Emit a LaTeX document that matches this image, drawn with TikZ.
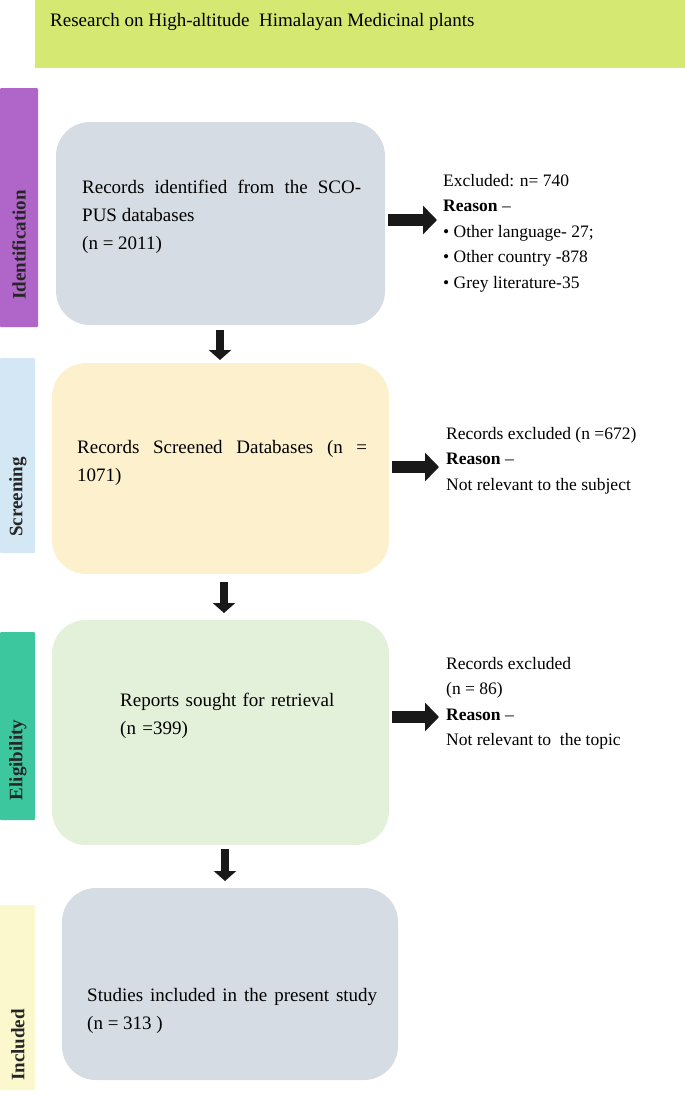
\documentclass[tikz,border=0pt]{standalone}
\usepackage{fontspec}
\setmainfont{Liberation Serif}
\usetikzlibrary{arrows.meta}
\definecolor{bannerg}{HTML}{D4E872}
\definecolor{purp}{HTML}{B066C8}
\definecolor{lblue}{HTML}{D3E7F4}
\definecolor{teal}{HTML}{3CC79F}
\definecolor{lyel}{HTML}{FAF8CC}
\definecolor{boxgray}{HTML}{D6DCE4}
\definecolor{boxyel}{HTML}{FDF1CD}
\definecolor{boxgrn}{HTML}{E3F1DB}
\begin{document}
\begin{tikzpicture}[x=1pt,y=-1pt,
  txt/.style={font=\fontsize{19}{28}\selectfont, inner sep=0pt},
  box/.style={rounded corners=34pt, draw=none},
  side/.style={rounded corners=1pt, draw=none},
  stage/.style={font=\fontsize{19}{22}\selectfont\bfseries, rotate=90, color=black!85, inner sep=0pt},
  rarr/.style={line width=12pt, -{Triangle[length=14pt,width=28pt]}, black!90},
  darr/.style={line width=8pt, -{Triangle[length=10pt,width=22pt]}, black!90}]
\useasboundingbox (0,0) rectangle (685,1096);
% banner
\fill[bannerg] (35,0) rectangle (685,68);
\node[txt, anchor=west] (title) at (50,22) {Research on High-altitude\ \ Himalayan Medicinal plants};
% side bars
\fill[side,purp] (0,88) rectangle (38,327);
\node[stage] (s1) at (19,245) {Identification};
\fill[side,lblue] (0,358) rectangle (35,553);
\node[stage] (s2) at (18,497) {Screening};
\fill[side,teal] (0,632) rectangle (35,820);
\node[stage] (s3) at (18,760) {Eligibility};
\fill[side,lyel] (0,905) rectangle (35,1090);
\node[stage] (s4) at (18,1045) {Included};
% boxes
\fill[box,boxgray] (56,122) rectangle (385,325);
\coordinate (b1e) at (388,220); \coordinate (b1s) at (220,330);
\node[txt, anchor=north west, text width=279pt, align=justify] (t1) at (82,180) {Records identified from the SCOPUS databases\\(n = 2011)};
\fill[box,boxyel] (52,363) rectangle (389,574);
\node[txt, anchor=north west, text width=290pt, align=justify] (t2) at (77,440) {Records Screened Databases (n = 1071)};
\fill[box,boxgrn] (52,620) rectangle (389,845);
\node[txt, anchor=north west, text width=290pt, align=left] (t3) at (120,693) {Reports sought for retrieval\\(n =399)};
\fill[box,boxgray] (62,888) rectangle (398,1080);
\node[txt, anchor=north west, text width=290pt, align=justify] (t4) at (87,988) {Studies included in the present study\ \ (n = 313 )};
% right texts
\node[txt, anchor=north west, align=left, font=\fontsize{17.5}{25.5}\selectfont] (e1) at (443,174) {Excluded: n= 740\\\textbf{Reason} --\\\textbullet\ Other language- 27;\\\textbullet\ Other country -878\\\textbullet\ Grey literature-35};
\node[txt, anchor=north west, align=left, font=\fontsize{17.5}{25.5}\selectfont] (e2) at (446,427) {Records excluded (n =672)\\\textbf{Reason} --\\Not relevant to the subject};
\node[txt, anchor=north west, align=left, font=\fontsize{17.5}{25.5}\selectfont] (e3) at (446,657) {Records excluded\\(n = 86)\\\textbf{Reason} --\\Not relevant to\ \ the topic};
% arrows
\coordinate (a1s) at (388,220); \coordinate (a1e) at (437,220);
\draw[rarr] (a1s) -- (a1e);
\coordinate (a2s) at (392,467); \coordinate (a2e) at (439,467);
\draw[rarr] (a2s) -- (a2e);
\coordinate (a3s) at (392,717); \coordinate (a3e) at (439,717);
\draw[rarr] (a3s) -- (a3e);
\coordinate (d1s) at (220,330); \coordinate (d1e) at (220,360);
\draw[darr] (d1s) -- (d1e);
\coordinate (d2s) at (224,582); \coordinate (d2e) at (224,613);
\draw[darr] (d2s) -- (d2e);
\coordinate (d3s) at (225,849); \coordinate (d3e) at (225,881);
\draw[darr] (d3s) -- (d3e);
\end{tikzpicture}
\end{document}
